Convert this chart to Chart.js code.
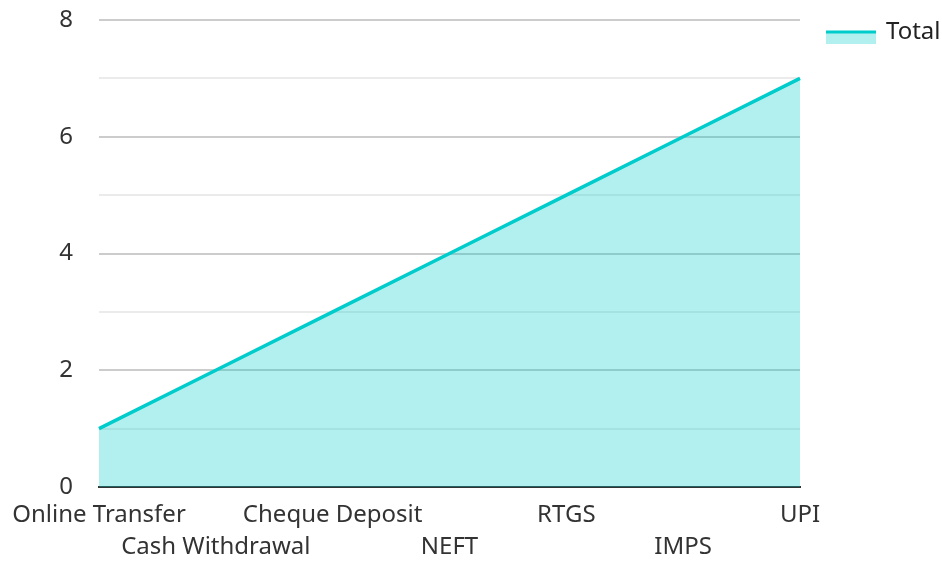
<!DOCTYPE html>
<html>
<head>
<meta charset="utf-8">
<script src="https://cdn.jsdelivr.net/npm/chart.js@4"></script>
<style>
  html, body { margin: 0; padding: 0; background: #fff; }
  #wrap { width: 942px; height: 561px; }
</style>
</head>
<body>
<div id="wrap"><canvas id="chart"></canvas></div>
<script>
// data
const categories = ["Online Transfer", "Cash Withdrawal", "Cheque Deposit", "NEFT", "RTGS", "IMPS", "UPI"];
const totals = [1, 2, 3, 4, 5, 6, 7];
const seriesName = "Total";
const yTicks = [0, 2, 4, 6, 8];

const FONT = "'Noto Sans', 'Open Sans', sans-serif";

// staggered labels: odd ones go on the second row
const staggered = categories.map((c, i) => (i % 2 === 0 ? [c, ""] : ["", c]));

// legend drawn on the right, line on top + fill below
const sideLegend = {
  id: "sideLegend",
  afterDraw(chart) {
    const ds = chart.data.datasets[0];
    const ctx = chart.ctx;
    const x = 826, y = 32, w = 50;
    ctx.save();
    ctx.fillStyle = ds.backgroundColor;
    ctx.fillRect(x, y, w, 12);
    ctx.strokeStyle = ds.borderColor;
    ctx.lineWidth = 3;
    ctx.beginPath();
    ctx.moveTo(x, y);
    ctx.lineTo(x + w, y);
    ctx.stroke();
    ctx.fillStyle = "#222";
    ctx.font = "24px " + FONT;
    ctx.textBaseline = "middle";
    ctx.fillText(ds.label, x + w + 10, y);
    ctx.restore();
  }
};

new Chart(document.getElementById("chart"), {
  type: "line",
  data: {
    labels: staggered,
    datasets: [{
      label: seriesName,
      data: totals,
      borderColor: "rgb(0, 204, 204)",
      backgroundColor: "rgba(0, 204, 204, 0.3)",
      borderWidth: 3.5,
      fill: "origin",
      pointRadius: 0,
      tension: 0
    }]
  },
  options: {
    responsive: true,
    maintainAspectRatio: false,
    animation: false,
    layout: { padding: { top: 20, right: 142, left: 0, bottom: 0 } },
    plugins: {
      legend: { display: false },
      tooltip: { enabled: false }
    },
    scales: {
      x: {
        offset: false,
        grid: { display: false, drawTicks: false },
        border: { display: true, color: "#333", width: 2 },
        ticks: {
          autoSkip: false,
          maxRotation: 0,
          padding: 12,
          color: "#333",
          font: { family: FONT, size: 24, lineHeight: 1.333 }
        },
        afterFit(scale) {
          scale.height = 74;
          scale.paddingLeft = 0;
          scale.paddingRight = 0;
        }
      },
      y: {
        min: 0,
        max: 8,
        afterBuildTicks(scale) {
          // ticks every 1, labels only on the even ones
          const t = [];
          for (let v = 0; v <= 8; v++) t.push({ value: v });
          scale.ticks = t;
        },
        grid: {
          drawTicks: false,
          color: (c) => (c.tick && yTicks.includes(c.tick.value) ? "#cccccc" : "#ebebeb"),
          lineWidth: 2
        },
        border: { display: false },
        ticks: {
          padding: 26,
          color: "#333",
          font: { family: FONT, size: 24 },
          callback: (v) => (yTicks.includes(v) ? String(v) : "")
        },
        afterFit(scale) {
          scale.width = 99;
          scale.paddingTop = 0;
          scale.paddingBottom = 0;
        }
      }
    }
  },
  plugins: [sideLegend]
});
</script>
</body>
</html>
